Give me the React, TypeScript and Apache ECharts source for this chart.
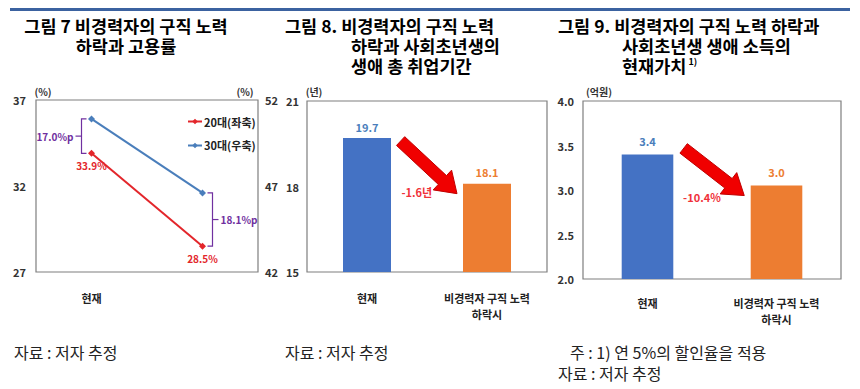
import React, { useEffect, useRef } from 'react';
import * as echarts from 'echarts';

// ---- data ----
const categories = ['현재', '비경력자 구직 노력\n하락시'];
const seriesNames = ['20대(좌축)', '30대(우축)'];
const emp20s = [33.9, 28.5];
const emp30s = [50.9, 46.6];
const emp20sLabels = ['33.9%', '28.5%'];
const empGapLabels = ['17.0%p', '18.1%p'];
const leftTicks = [27, 32, 37];
const rightTicks = [42, 47, 52];

const years = [19.7, 18.1];
const yearsLabels = ['19.7', '18.1'];
const yearsChange = '-1.6년';
const yearTicks = [15, 18, 21];

const income = [3.4, 3.05];
const incomeLabels = ['3.4', '3.0'];
const incomeChange = '-10.4%';
const incomeTicks = [2.0, 2.5, 3.0, 3.5, 4.0];

// ---- styles ----
const RED = '#e3262b';
const BLUE = '#4a7ebb';
const PURPLE = '#7030a0';
const BAR_COLORS = ['#4472c4', '#ed7d31'];
const LABEL_COLORS = ['#4a7ebb', '#ed7d31'];
const KR = "'Noto Sans CJK KR', 'Noto Sans', sans-serif";
const NUM = "'Noto Sans CJK KR', 'Noto Sans', sans-serif";
const RIGHT_SHIFT = rightTicks[0] - leftTicks[0];

const catAxis = (gridIndex: number, margin: number) => ({
  type: 'category',
  gridIndex,
  data: categories,
  boundaryGap: true,
  axisLine: { show: false },
  axisTick: { show: false },
  axisLabel: { margin, fontFamily: KR, fontSize: 11, fontWeight: 'bold', color: '#222', lineHeight: 16 },
});

const valAxis = (gridIndex: number, ticks: number[], position: string, digits: number, margin: number) => ({
  type: 'value',
  gridIndex,
  position,
  min: ticks[0],
  max: ticks[ticks.length - 1],
  interval: ticks[1] - ticks[0],
  splitLine: { show: false },
  axisLine: { show: false },
  axisTick: { show: false },
  axisLabel: {
    margin,
    fontFamily: NUM,
    fontSize: 11,
    fontWeight: 'bold',
    color: '#333',
    formatter: (v: number) => v.toFixed(digits),
  },
});

function arrowRender(vals: number[], label: string, tailDy: number) {
  return (_params: any, api: any) => {
    const p0 = api.coord([0, vals[0]]);
    const p1 = api.coord([1, vals[1]]);
    const band = api.size([1, 0])[0];
    const T = [p0[0] + band * 0.28, p0[1] + tailDy];
    const H = [p1[0] - band * 0.25, p1[1] + 10];
    const dx = H[0] - T[0];
    const dy = H[1] - T[1];
    const len = Math.sqrt(dx * dx + dy * dy);
    const ux = dx / len;
    const uy = dy / len;
    const nx = -uy;
    const ny = ux;
    const sw = 6;
    const hw = 13.5;
    const hl = 20;
    const B = [H[0] - ux * hl, H[1] - uy * hl];
    const pts = [
      [T[0] + nx * sw, T[1] + ny * sw],
      [B[0] + nx * sw, B[1] + ny * sw],
      [B[0] + nx * hw, B[1] + ny * hw],
      [H[0], H[1]],
      [B[0] - nx * hw, B[1] - ny * hw],
      [B[0] - nx * sw, B[1] - ny * sw],
      [T[0] - nx * sw, T[1] - ny * sw],
    ];
    const mx = (T[0] + H[0]) / 2;
    const my = (T[1] + H[1]) / 2;
    return {
      type: 'group',
      children: [
        { type: 'polygon', shape: { points: pts }, style: { fill: '#f00000', stroke: '#c00000', lineWidth: 1 } },
        {
          type: 'text',
          x: mx - 12,
          y: my + 25,
          style: { text: label, fill: '#f0323a', font: `bold 11px ${NUM}`, align: 'center', verticalAlign: 'middle' },
        },
      ],
    };
  };
}

function bracketRender(_params: any, api: any) {
  const i = api.value(0);
  const red = api.coord([i, api.value(1)]);
  const blue = api.coord([i, api.value(2) - RIGHT_SHIFT]);
  const side = i === 0 ? -1 : 1;
  const xv = red[0] + side * 10;
  const xt = red[0] + side * 5;
  const ym = (red[1] + blue[1]) / 2;
  return {
    type: 'group',
    children: [
      {
        type: 'polyline',
        shape: { points: [[xt, blue[1]], [xv, blue[1]], [xv, red[1]], [xt, red[1]]] },
        style: { stroke: PURPLE, lineWidth: 1.2, fill: null },
      },
      { type: 'line', shape: { x1: xv, y1: ym, x2: xv + side * 6, y2: ym }, style: { stroke: PURPLE, lineWidth: 1.2 } },
      {
        type: 'text',
        x: xv + side * 8,
        y: ym,
        style: {
          text: empGapLabels[i],
          fill: PURPLE,
          font: `bold 10px ${NUM}`,
          align: side < 0 ? 'right' : 'left',
          verticalAlign: 'middle',
        },
      },
    ],
  };
}

const txt = (text: string, x: number, y: number, font: string, align = 'left', fill = '#111') => ({
  type: 'text',
  x,
  y,
  style: { text, font, fill, align, verticalAlign: 'middle' },
});

const TITLE_RICH = {
  t: { fontFamily: KR, fontSize: 17.5, fontWeight: 'bold', color: '#111', lineHeight: 20 },
  i: { fontFamily: KR, fontSize: 17.5, lineHeight: 20, width: 66 },
  j: { fontFamily: KR, fontSize: 17.5, lineHeight: 20, width: 64 },
  s: { fontFamily: KR, fontSize: 9, fontWeight: 'bold', color: '#111', lineHeight: 20, verticalAlign: 'top', padding: [2, 0, 0, 2] },
};

const title = (text: string, x: number, y: number, align = 'left') => ({
  type: 'text',
  x,
  y,
  style: { text, rich: TITLE_RICH, align, verticalAlign: 'top' },
});

const FOOT = `16px ${KR}`;
const UNIT = `bold 10px ${KR}`;

export default function App() {
  const ref = useRef<HTMLDivElement>(null);
  useEffect(() => {
    if (!ref.current) return;
    const chart = echarts.init(ref.current, undefined, { renderer: 'svg' });
    chart.setOption({
      animation: false,
      backgroundColor: '#ffffff',
      grid: [
        { left: 36, top: 100, width: 222, height: 172, show: true, borderColor: '#7f7f7f', borderWidth: 1.2, backgroundColor: '#fff' },
        { left: 307, top: 101, width: 240, height: 171, show: true, borderColor: '#7f7f7f', borderWidth: 1.2, backgroundColor: '#fff' },
        { left: 583, top: 101, width: 258, height: 178, show: true, borderColor: '#7f7f7f', borderWidth: 1.2, backgroundColor: '#fff' },
      ],
      xAxis: [catAxis(0, 18), catAxis(1, 18), catAxis(2, 16)],
      yAxis: [
        valAxis(0, leftTicks, 'left', 0, 10),
        valAxis(0, rightTicks, 'right', 0, 7),
        valAxis(1, yearTicks, 'left', 0, 8),
        valAxis(2, incomeTicks, 'left', 1, 9),
      ],
      legend: {
        orient: 'vertical',
        left: 182,
        top: 111,
        itemGap: 13,
        itemWidth: 14,
        itemHeight: 7,
        data: seriesNames,
        textStyle: { fontFamily: KR, fontSize: 11, fontWeight: 'bold', color: '#222', padding: [0, 0, 0, -3] },
      },
      series: [
        {
          name: seriesNames[0],
          type: 'line',
          xAxisIndex: 0,
          yAxisIndex: 0,
          data: emp20s,
          color: RED,
          lineStyle: { width: 2, color: RED },
          symbol: 'diamond',
          symbolSize: 7,
          itemStyle: { color: RED },
          label: {
            show: true,
            position: 'bottom',
            distance: 4,
            color: RED,
            fontFamily: NUM,
            fontSize: 10,
            fontWeight: 'bold',
            formatter: (p: any) => emp20sLabels[p.dataIndex],
          },
        },
        {
          name: seriesNames[1],
          type: 'line',
          xAxisIndex: 0,
          yAxisIndex: 1,
          data: emp30s,
          color: BLUE,
          lineStyle: { width: 2, color: BLUE },
          symbol: 'diamond',
          symbolSize: 7,
          itemStyle: { color: BLUE },
        },
        {
          type: 'custom',
          xAxisIndex: 0,
          yAxisIndex: 0,
          encode: { x: 0, y: 1 },
          data: emp20s.map((v, i) => [i, v, emp30s[i]]),
          renderItem: bracketRender,
          silent: true,
        },
        {
          type: 'bar',
          xAxisIndex: 1,
          yAxisIndex: 2,
          barWidth: '40%',
          data: years.map((v, i) => ({
            value: v,
            itemStyle: { color: BAR_COLORS[i] },
            label: { color: LABEL_COLORS[i] },
          })),
          label: {
            show: true,
            position: 'top',
            distance: 6,
            fontFamily: NUM,
            fontSize: 11,
            fontWeight: 'bold',
            formatter: (p: any) => yearsLabels[p.dataIndex],
          },
        },
        {
          type: 'custom',
          xAxisIndex: 1,
          yAxisIndex: 2,
          encode: { x: 0, y: 1 },
          data: [[0, years[0]]],
          renderItem: arrowRender(years, yearsChange, 3),
          silent: true,
          z: 5,
        },
        {
          type: 'bar',
          xAxisIndex: 2,
          yAxisIndex: 3,
          barWidth: '40%',
          data: income.map((v, i) => ({
            value: v,
            itemStyle: { color: BAR_COLORS[i] },
            label: { color: LABEL_COLORS[i] },
          })),
          label: {
            show: true,
            position: 'top',
            distance: 8,
            fontFamily: NUM,
            fontSize: 11,
            fontWeight: 'bold',
            formatter: (p: any) => incomeLabels[p.dataIndex],
          },
        },
        {
          type: 'custom',
          xAxisIndex: 2,
          yAxisIndex: 3,
          encode: { x: 0, y: 1 },
          data: [[0, income[0]]],
          renderItem: arrowRender(income, incomeChange, -6),
          silent: true,
          z: 5,
        },
      ],
      graphic: [
        { type: 'rect', shape: { x: 10, y: 8, width: 840, height: 3 }, style: { fill: '#3b62a0' } },
        // titles
        title('{t|그림 7 비경력자의 구직 노력}\n{t|하락과 고용률}', 126, 15, 'center'),
        title('{t|그림 8. 비경력자의 구직 노력}\n{i| }{t|하락과 사회초년생의}\n{i| }{t|생애 총 취업기간}', 285, 15),
        title('{t|그림 9. 비경력자의 구직 노력 하락과}\n{j| }{t|사회초년생 생애 소득의}\n{j| }{t|현재가치}{s|1)}', 558, 15),
        // units
        txt('(%)', 43, 91, UNIT, 'center', '#333'),
        txt('(%)', 245, 91, UNIT, 'center', '#333'),
        txt('(년)', 314, 91, UNIT, 'center', '#333'),
        txt('(억원)', 599, 91, UNIT, 'center', '#333'),
        // footers
        txt('자료 : 저자 추정', 14, 352, FOOT, 'left', '#222'),
        txt('자료 : 저자 추정', 285, 352, FOOT, 'left', '#222'),
        txt('주 : 1) 연 5%의 할인율을 적용', 570, 352, FOOT, 'left', '#222'),
        txt('자료 : 저자 추정', 558, 373, FOOT, 'left', '#222'),
      ],
    });
    return () => chart.dispose();
  }, []);
  return (
    <div
      ref={ref}
      style={{ position: 'absolute', left: 0, top: 0, width: 860, height: 389, background: '#fff' }}
    />
  );
}
